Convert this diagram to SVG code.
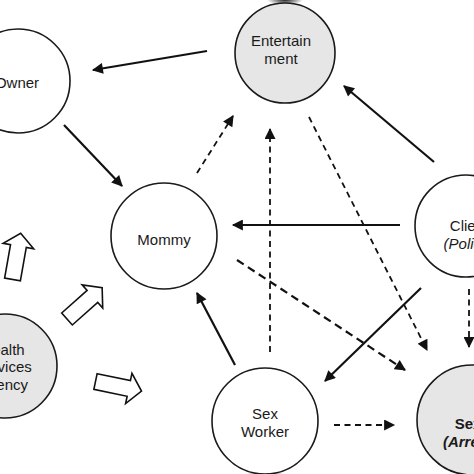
<svg xmlns="http://www.w3.org/2000/svg" width="474" height="474" viewBox="0 0 474 474">
<defs>
<style>
.node{stroke:#1a1a1a;stroke-width:1.6}
.w{fill:#fff}
.g{fill:#e6e6e6}
.t{font-family:"Liberation Sans",Arial,sans-serif;font-size:15px;fill:#1a1a1a;text-anchor:middle}
.b{font-weight:bold}
.s{fill:none;stroke:#111;stroke-width:2.2}
.d{fill:none;stroke:#111;stroke-width:1.8;stroke-dasharray:6 4.5}
.dd{fill:none;stroke:#111;stroke-width:2.2;stroke-dasharray:8 5}
.blk{fill:#fff;stroke:#111;stroke-width:1.6;stroke-linejoin:miter}
</style>
<marker id="ah" viewBox="0 0 10 10" refX="9" refY="5" markerWidth="12" markerHeight="11" markerUnits="userSpaceOnUse" orient="auto">
<path d="M0,0 L10,5 L0,10 Z" fill="#111"/>
</marker>
<radialGradient id="dk" cx="0.5" cy="0.5" r="0.5">
<stop offset="0" stop-color="#222"/>
<stop offset="1" stop-color="#222" stop-opacity="0"/>
</radialGradient>
<path id="blockArrow" d="M0,-8 L34,-8 L34,-15.5 L47,0 L34,15.5 L34,8 L0,8 Z"/>
</defs>
<rect width="474" height="474" fill="#fff"/>

<g id="artifacts">
<ellipse cx="285" cy="0" rx="18" ry="5" fill="url(#dk)"/>
<ellipse cx="265" cy="474" rx="18" ry="5" fill="url(#dk)"/>
</g>

<g id="connectors">
<line class="s" x1="207" y1="51" x2="93" y2="70" marker-end="url(#ah)"/>
<line class="s" x1="64" y1="125" x2="122" y2="186" marker-end="url(#ah)"/>
<line class="d" x1="197" y1="173" x2="233" y2="116" marker-end="url(#ah)"/>
<line class="d" x1="270" y1="352" x2="270" y2="129" marker-end="url(#ah)"/>
<line class="d" x1="309" y1="117" x2="427" y2="350" marker-end="url(#ah)"/>
<line class="s" x1="434" y1="162" x2="344" y2="86" marker-end="url(#ah)"/>
<line class="s" x1="400" y1="225" x2="233" y2="225" marker-end="url(#ah)"/>
<line class="dd" x1="237" y1="260" x2="405" y2="370" marker-end="url(#ah)"/>
<line class="s" x1="421" y1="288" x2="325" y2="381" marker-end="url(#ah)"/>
<line class="d" x1="469" y1="289" x2="469" y2="347" marker-end="url(#ah)"/>
<line class="d" x1="334" y1="425" x2="394" y2="425" marker-end="url(#ah)"/>
<line class="s" x1="235" y1="365" x2="197" y2="293" marker-end="url(#ah)"/>
<use href="#blockArrow" class="blk" transform="translate(12.5,279.5) rotate(-80)"/>
<use href="#blockArrow" class="blk" transform="translate(67,319) rotate(-41.6)"/>
<use href="#blockArrow" class="blk" transform="translate(95.5,381.5) rotate(11.8)"/>
</g>

<g id="owner">
<circle class="node w" cx="18" cy="81" r="52"/>
<text class="t" x="17" y="88">Owner</text>
</g>

<g id="entertainment">
<circle class="node g" cx="285" cy="53" r="50"/>
<text class="t" x="281" y="46">Entertain</text>
<text class="t" x="281" y="64">ment</text>
</g>

<g id="mommy">
<circle class="node w" cx="164" cy="236" r="53"/>
<text class="t" x="164" y="245">Mommy</text>
</g>

<g id="client">
<circle class="node w" cx="466" cy="226" r="51"/>
<text class="t" x="469" y="231">Client</text>
<text class="t" x="469" y="249" font-style="italic">(Police)</text>
</g>

<g id="health">
<circle class="node g" cx="5" cy="366" r="52"/>
<text class="t" x="3" y="355">Health</text>
<text class="t" x="3" y="372">Services</text>
<text class="t" x="3" y="390">Agency</text>
</g>

<g id="sexworker">
<circle class="node w" cx="265" cy="421" r="53"/>
<text class="t" x="265" y="419">Sex</text>
<text class="t" x="265" y="437">Worker</text>
</g>

<g id="arrest">
<circle class="node g" cx="472" cy="420" r="55"/>
<text class="t b" x="468" y="429">Sex</text>
<text class="t b" x="470" y="447" font-style="italic">(Arrest)</text>
</g>
</svg>
